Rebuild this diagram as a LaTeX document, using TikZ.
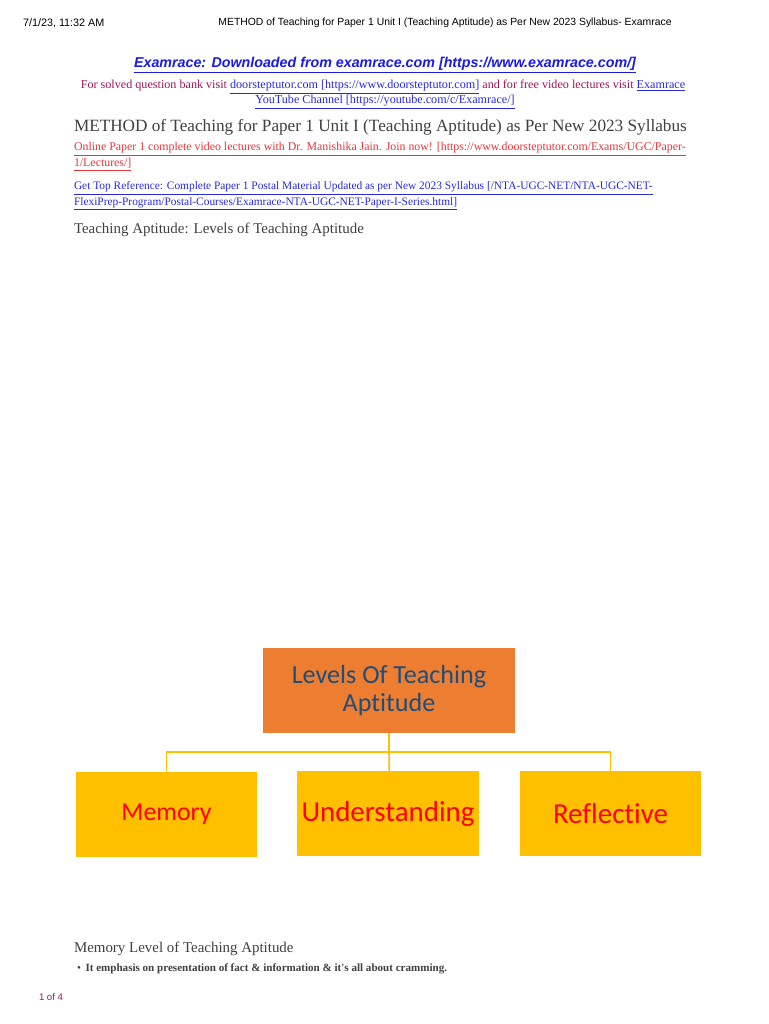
\documentclass[tikz,border=0pt]{standalone}
\usepackage{fontspec}
\usepackage{tikz}
\usetikzlibrary{positioning}
\newfontfamily\hdrfont{Liberation Sans}
\newfontfamily\txtfont{Liberation Serif}
\newfontfamily\boxfont{Carlito}[Ligatures=NoCommon]
\definecolor{box_orange}{HTML}{ED7D31}
\definecolor{box_yellow}{HTML}{FFC000}
\definecolor{box_blue}{HTML}{1F4E79}
\definecolor{link_blue}{HTML}{2A2AD8}
\definecolor{top_blue}{HTML}{1A1AE0}
\definecolor{my_maroon}{HTML}{96195A}
\definecolor{my_red}{HTML}{E0383C}
\definecolor{my_gray}{HTML}{404040}
\newcommand\lnk[1]{\textcolor{link_blue}{\underline{#1}}}

\begin{document}
\begin{tikzpicture}[x=0.75pt,y=-0.75pt,
  every node/.style={inner sep=0pt,outer sep=0pt},
  hdr/.style={font=\hdrfont\fontsize{7.8}{10}\selectfont,text=black},
  topline/.style={font=\hdrfont\bfseries\itshape\fontsize{10.7}{12}\selectfont,text=top_blue},
  small/.style={font=\txtfont\fontsize{8.8}{10}\selectfont},
  heading/.style={font=\txtfont\fontsize{12.9}{15}\selectfont,text=my_gray},
  subhead/.style={font=\txtfont\fontsize{11.2}{13}\selectfont,text=my_gray},
  root/.style={rectangle,fill=box_orange,minimum width=189pt,minimum height=64pt,align=center,
    text=box_blue,font=\boxfont\fontsize{19.6}{21.5}\selectfont},
  level/.style={rectangle,fill=box_yellow,minimum width=136pt,minimum height=64pt,
    text=red,font=\boxfont\fontsize{21.7}{24}\selectfont},
  branch/.style={draw=box_yellow,line width=1.2pt}
  ]

\useasboundingbox[fill=white] (0,0) rectangle (768,1024);

% page header
\node[hdr,anchor=west] (date) at (23,23) {\fontsize{8.1}{10}\selectfont 7/1/23, 11:32 AM};
\node[hdr] (title) at (445,23) {METHOD of Teaching for Paper 1 Unit I (Teaching Aptitude) as Per New 2023 Syllabus- Examrace};

% banner
\node[topline] (banner) at (385,65) {\underline{Examrace: Downloaded from examrace.com [https://www.examrace.com/]}};
\node[small,text=my_maroon] (visit1) at (383,87) {\fontsize{9.1}{10}\selectfont For solved question bank visit \lnk{doorsteptutor.com [https://www.doorsteptutor.com]} and for free video lectures visit \lnk{Examrace}};
\node[small] (visit2) at (385,102) {\fontsize{9.1}{10}\selectfont\lnk{YouTube Channel [https://youtube.com/c/Examrace/]}};

% page text
\node[heading,anchor=west] (method) at (74,127) {METHOD of Teaching for Paper 1 Unit I (Teaching Aptitude) as Per New 2023 Syllabus};
\node[small,text=my_red,anchor=west] (online1) at (74,149) {\fontsize{8.9}{10}\selectfont\underline{Online Paper 1 complete video lectures with Dr. Manishika Jain. Join now! [https://www.doorsteptutor.com/Exams/UGC/Paper-}};
\node[small,text=my_red,anchor=west] (online2) at (74,165) {\fontsize{8.9}{10}\selectfont\underline{1/Lectures/]}};
\node[small,text=link_blue,anchor=west] (ref1) at (74,188) {\fontsize{8.55}{10}\selectfont\underline{Get Top Reference: Complete Paper 1 Postal Material Updated as per New 2023 Syllabus [/NTA-UGC-NET/NTA-UGC-NET-}};
\node[small,text=link_blue,anchor=west] (ref2) at (74,204) {\fontsize{8.55}{10}\selectfont\underline{FlexiPrep-Program/Postal-Courses/Examrace-NTA-UGC-NET-Paper-I-Series.html]}};
\node[subhead,anchor=west] (levels) at (74,230) {Teaching Aptitude: Levels of Teaching Aptitude};

% chart
\node[root] (top) at (389,690.5) {Levels Of Teaching\\Aptitude};
\node[level,font=\boxfont\fontsize{19.4}{24}\selectfont] (mem) at (166.5,814.5) {Memory};
\node[level] (und) at (388,813.5) {Understanding};
\node[level] (refl) at (610.5,813.5) {Reflective};
\coordinate (bar) at (389,752);

\draw[branch] (top.south) -- (bar);
\draw[branch] ([yshift=-1pt]mem.north) |- (bar) -| ([yshift=-1pt]refl.north);
\draw[branch] (bar) -- ([xshift=1pt,yshift=-1pt]und.north);

% page foot
\node[subhead,anchor=west] (memlev) at (74,949) {Memory Level of Teaching Aptitude};
\node[small,anchor=west,text=my_gray] (bullet) at (77,969) {\fontsize{8.3}{10}\selectfont\textbullet\hspace{3.5pt}\bfseries It emphasis on presentation of fact \& information \& it's all about cramming.};
\node[hdr,text=my_maroon,anchor=west] (pageno) at (39,997) {\fontsize{7.2}{10}\selectfont 1 of 4};

\end{tikzpicture}
\end{document}
